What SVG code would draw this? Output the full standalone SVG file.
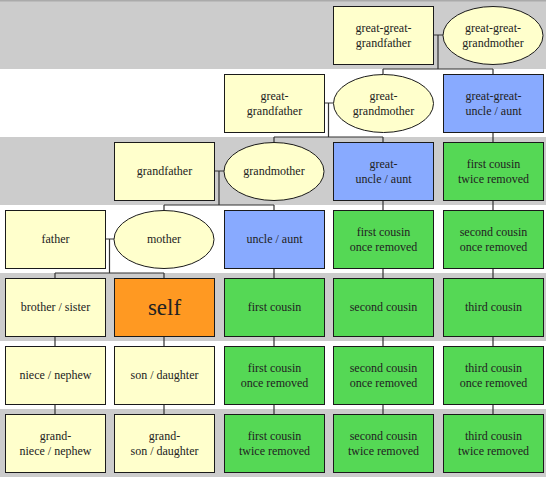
<svg xmlns="http://www.w3.org/2000/svg" width="549" height="479" viewBox="0 0 549 479">
<style>
.band{fill:#cccccc}
.n rect,.n ellipse{stroke:#1a1a1a;stroke-width:1}
.y rect,.y ellipse{fill:#ffffcc}
.g rect{fill:#55d855}
.b rect{fill:#88aaff}
.o rect{fill:#ff9922}
text{font-family:"Liberation Serif","Times New Roman",serif;font-size:12px;fill:#222;text-anchor:middle}
.self{font-size:23px}
#connectors path{stroke:#333;stroke-width:1.2;fill:none}
</style>
<rect width="549" height="479" fill="#ffffff"/>
<g id="bands">
<rect x="0" y="0" width="546" height="69" class="band"/>
<rect x="0" y="0" width="546" height="1.5" fill="#aaaaaa"/>
<rect x="0" y="137" width="546" height="68" class="band"/>
<rect x="0" y="273" width="546" height="68" class="band"/>
<rect x="0" y="409" width="546" height="68" class="band"/>
</g>
<g id="connectors">
<path d="M433,35H443M438,35V69M383,69H493M383,69V74M493,69V74"/>
<path d="M324,103H333M328.5,103V137M274,137H383M274,137V142M383,137V142M493,132V142"/>
<path d="M214,171H224M219,171V205M164,205H274M164,205V210M274,205V210M383,200V210M493,200V210"/>
<path d="M105,239H114M109.5,239V273M55,273H164M55,273V278M164,273V278M274,268V278M383,268V278M493,268V278"/>
<path d="M55,336V346M164,336V346M274,336V346M383,336V346M493,336V346"/>
<path d="M55,404V414M164,404V414M274,404V414M383,404V414M493,404V414"/>
</g>
<g id="gg-grandfather" class="n y"><rect x="333.5" y="6.5" width="100" height="58"/><text x="383.5" y="32">great-great-</text><text x="383.5" y="47">grandfather</text></g>
<g id="gg-grandmother" class="n y"><ellipse cx="493" cy="35.5" rx="50" ry="29"/><text x="493" y="32">great-great-</text><text x="493" y="47">grandmother</text></g>
<g id="g-grandfather" class="n y"><rect x="224.5" y="74.5" width="100" height="58"/><text x="274.5" y="100">great-</text><text x="274.5" y="115">grandfather</text></g>
<g id="g-grandmother" class="n y"><ellipse cx="383.5" cy="103.5" rx="50" ry="29"/><text x="383.5" y="100">great-</text><text x="383.5" y="115">grandmother</text></g>
<g id="gg-uncle" class="n b"><rect x="443.5" y="74.5" width="100" height="58"/><text x="493.5" y="100">great-great-</text><text x="493.5" y="115">uncle / aunt</text></g>
<g id="grandfather" class="n y"><rect x="114.5" y="142.5" width="100" height="58"/><text x="164.5" y="175">grandfather</text></g>
<g id="grandmother" class="n y"><ellipse cx="274" cy="171.5" rx="50" ry="29"/><text x="274" y="175">grandmother</text></g>
<g id="g-uncle" class="n b"><rect x="333.5" y="142.5" width="100" height="58"/><text x="383.5" y="168">great-</text><text x="383.5" y="183">uncle / aunt</text></g>
<g id="fc2r-up" class="n g"><rect x="443.5" y="142.5" width="100" height="58"/><text x="493.5" y="168">first cousin</text><text x="493.5" y="183">twice removed</text></g>
<g id="father" class="n y"><rect x="5.5" y="210.5" width="100" height="58"/><text x="55.5" y="243">father</text></g>
<g id="mother" class="n y"><ellipse cx="164" cy="239.5" rx="50" ry="29"/><text x="164" y="243">mother</text></g>
<g id="uncle" class="n b"><rect x="224.5" y="210.5" width="100" height="58"/><text x="274.5" y="243">uncle / aunt</text></g>
<g id="fc1r-up" class="n g"><rect x="333.5" y="210.5" width="100" height="58"/><text x="383.5" y="236">first cousin</text><text x="383.5" y="251">once removed</text></g>
<g id="sc1r-up" class="n g"><rect x="443.5" y="210.5" width="100" height="58"/><text x="493.5" y="236">second cousin</text><text x="493.5" y="251">once removed</text></g>
<g id="sibling" class="n y"><rect x="5.5" y="278.5" width="100" height="58"/><text x="55.5" y="311">brother / sister</text></g>
<g id="self" class="n o"><rect x="114.5" y="278.5" width="100" height="58"/><text x="164.5" y="315" class="self">self</text></g>
<g id="first-cousin" class="n g"><rect x="224.5" y="278.5" width="100" height="58"/><text x="274.5" y="311">first cousin</text></g>
<g id="second-cousin" class="n g"><rect x="333.5" y="278.5" width="100" height="58"/><text x="383.5" y="311">second cousin</text></g>
<g id="third-cousin" class="n g"><rect x="443.5" y="278.5" width="100" height="58"/><text x="493.5" y="311">third cousin</text></g>
<g id="niece" class="n y"><rect x="5.5" y="346.5" width="100" height="58"/><text x="55.5" y="379">niece / nephew</text></g>
<g id="child" class="n y"><rect x="114.5" y="346.5" width="100" height="58"/><text x="164.5" y="379">son / daughter</text></g>
<g id="fc1r-down" class="n g"><rect x="224.5" y="346.5" width="100" height="58"/><text x="274.5" y="372">first cousin</text><text x="274.5" y="387">once removed</text></g>
<g id="sc1r-down" class="n g"><rect x="333.5" y="346.5" width="100" height="58"/><text x="383.5" y="372">second cousin</text><text x="383.5" y="387">once removed</text></g>
<g id="tc1r-down" class="n g"><rect x="443.5" y="346.5" width="100" height="58"/><text x="493.5" y="372">third cousin</text><text x="493.5" y="387">once removed</text></g>
<g id="grandniece" class="n y"><rect x="5.5" y="414.5" width="100" height="58"/><text x="55.5" y="440">grand-</text><text x="55.5" y="455">niece / nephew</text></g>
<g id="grandchild" class="n y"><rect x="114.5" y="414.5" width="100" height="58"/><text x="164.5" y="440">grand-</text><text x="164.5" y="455">son / daughter</text></g>
<g id="fc2r-down" class="n g"><rect x="224.5" y="414.5" width="100" height="58"/><text x="274.5" y="440">first cousin</text><text x="274.5" y="455">twice removed</text></g>
<g id="sc2r-down" class="n g"><rect x="333.5" y="414.5" width="100" height="58"/><text x="383.5" y="440">second cousin</text><text x="383.5" y="455">twice removed</text></g>
<g id="tc2r-down" class="n g"><rect x="443.5" y="414.5" width="100" height="58"/><text x="493.5" y="440">third cousin</text><text x="493.5" y="455">twice removed</text></g>
</svg>
